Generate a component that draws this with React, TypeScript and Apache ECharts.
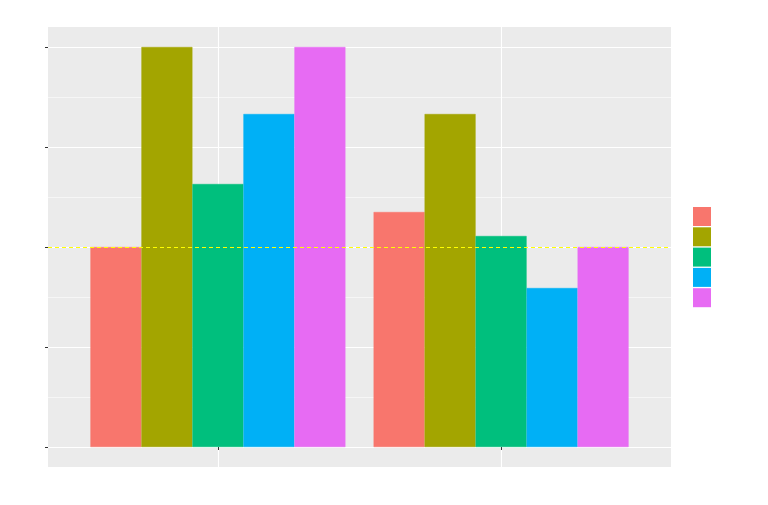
import React, { useEffect, useRef } from "react";
import * as echarts from "echarts";

const groupPositions = [1, 2];
const seriesNames = ["a", "b", "c", "d", "e"];
const seriesColors = ["#F8766D", "#A3A500", "#00BF7D", "#00B0F6", "#E76BF3"];
const valuesA = [2.0, 2.35];
const valuesB = [4.0, 3.33];
const valuesC = [2.63, 2.11];
const valuesD = [3.33, 1.59];
const valuesE = [4.0, 2.0];
const majorTicks = [0, 1, 2, 3, 4];
const minorTicks = [0.5, 1.5, 2.5, 3.5];
const referenceLevel = 2;

const allValues = [valuesA, valuesB, valuesC, valuesD, valuesE];

export default function App() {
  const ref = useRef<HTMLDivElement>(null);
  useEffect(() => {
    if (!ref.current) return;
    const chart = echarts.init(ref.current, null, { renderer: "svg" });
    const series: any[] = allValues.map((vals, i) => ({
      type: "bar",
      name: seriesNames[i],
      data: vals.map((v, j) => [groupPositions[j], v]),
      barWidth: 51,
      barGap: "0%",
      itemStyle: { color: seriesColors[i], borderColor: seriesColors[i], borderWidth: 0.5 },
      z: 2,
    }));
    // small offset aligns the 1px dashed line to a whole pixel row (crisp rendering)
    series[0].markLine = {
      silent: true,
      symbol: ["none", "none"],
      label: { show: false },
      lineStyle: { color: "#FFFF00", type: [4, 3], width: 1, opacity: 1 },
      data: [{ yAxis: referenceLevel + 0.005 }],
      z: 5,
    };
    chart.setOption({
      animation: false,
      backgroundColor: "#FFFFFF",
      grid: {
        left: 48,
        top: 27,
        width: 623,
        height: 440,
        show: true,
        backgroundColor: "#EBEBEB",
        borderWidth: 0,
      },
      legend: {
        orient: "vertical",
        left: 693,
        top: 207,
        padding: 0,
        itemWidth: 18,
        itemHeight: 19,
        itemGap: 1.3,
        icon: "rect",
        itemStyle: { borderWidth: 0 },
        textStyle: { fontSize: 1, lineHeight: 1 },
        formatter: () => "",
        data: seriesNames,
        selectedMode: false,
      },
      xAxis: {
        type: "value",
        min: 0.4,
        max: 2.6,
        axisLine: { show: false },
        axisTick: { show: true, customValues: groupPositions, length: 3, lineStyle: { color: "#333333", width: 1 } },
        axisLabel: { show: false, customValues: groupPositions },
        splitLine: { show: true, lineStyle: { color: "#FFFFFF", width: 1.1 } },
      },
      yAxis: [
        {
          type: "value",
          min: -0.2,
          max: 4.2,
          axisLine: { show: false },
          axisTick: { show: true, customValues: majorTicks, length: 3, lineStyle: { color: "#333333", width: 1 } },
          axisLabel: { show: false, customValues: majorTicks },
          splitLine: { show: true, lineStyle: { color: "#FFFFFF", width: 1.1 } },
        },
        {
          type: "value",
          position: "left",
          min: -0.2,
          max: 4.2,
          axisLine: { show: false },
          axisTick: { show: false, customValues: minorTicks },
          axisLabel: { show: false, customValues: minorTicks },
          splitLine: { show: true, lineStyle: { color: "#FFFFFF", width: 0.55 } },
        },
      ],
      series,
    });
    return () => chart.dispose();
  }, []);
  return <div ref={ref} style={{ position: "fixed", left: 0, top: 0, width: 768, height: 505 }} />;
}
